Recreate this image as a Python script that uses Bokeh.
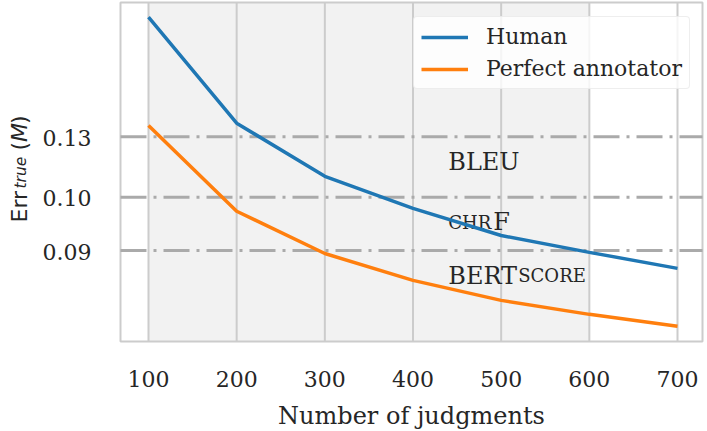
import math
from bokeh.plotting import figure
from bokeh.models import Range1d, BoxAnnotation
from bokeh.core.properties import value
from bokeh.embed import file_html
from bokeh.resources import INLINE

# ---------------- data ----------------
judgments = [100, 200, 300, 400, 500, 600, 700]
xtick_labels = ["100", "200", "300", "400", "500", "600", "700"]
err_human = [0.1676, 0.1305, 0.1119, 0.1007, 0.0912, 0.0853, 0.0797]
err_perfect = [0.1297, 0.0997, 0.0849, 0.0755, 0.0685, 0.0636, 0.0594]
series_names = ["Human", "Perfect annotator"]
metric_names = ["BLEU", "chrF", "BERTscore"]
metric_errs = [0.1258, 0.1046, 0.08595]
ytick_labels = ["0.13", "0.10", "0.09"]
shade_range = [100, 600]
x_label = "Number of judgments"

# ---------------- geometry (canvas px) ----------------
W, H = 707, 431
BOX_L, BOX_R, BOX_T, BOX_B = 120, 702, 2, 341   # drawn axes box
XPX = 600 / 529                    # data units per px (x)
YPX = 0.00035                      # data units per px (y)
XS = 100 - 148 * XPX               # x value at px 0
YT = 0.1045 + 197 * YPX            # y value at px 0


def X(px):
    return XS + px * XPX


def Y(py):
    return YT - py * YPX


SERIF = "DejaVu Serif"
SANS = "DejaVu Sans"
TXT = "#262626"

p = figure(width=W, height=H, output_backend="svg", toolbar_location=None,
           x_range=Range1d(X(0), X(W)), y_range=Range1d(Y(H), Y(0)),
           min_border_left=0, min_border_right=0, min_border_top=0, min_border_bottom=0)

p.background_fill_color = "white"
p.border_fill_color = "white"
p.outline_line_color = None
p.xaxis.visible = False
p.yaxis.visible = False
p.xgrid.visible = False
p.ygrid.visible = False

# shaded span
p.add_layout(BoxAnnotation(left=shade_range[0], right=shade_range[1], top=Y(BOX_T), bottom=Y(BOX_B),
                           fill_color="#f2f2f2", fill_alpha=1.0, line_color=None, level="image"))

# vertical grid lines at the x ticks
p.segment(x0=judgments, x1=judgments, y0=[Y(BOX_T)] * len(judgments), y1=[Y(BOX_B)] * len(judgments),
          line_color="#cccccc", line_width=2)

# axes box
p.quad(left=[X(BOX_L)], right=[X(BOX_R)], top=[Y(BOX_T)], bottom=[Y(BOX_B)],
       fill_color=None, line_color="#cccccc", line_width=2)

# metric reference lines
p.segment(x0=[X(BOX_L)] * len(metric_errs), x1=[X(BOX_R)] * len(metric_errs),
          y0=metric_errs, y1=metric_errs, line_color="#aaaaaa", line_width=3,
          line_dash="26 7 3 7")

# metric labels (with small caps parts)
label_x = 440
pieces = {
    "BLEU": [("BLEU", "24px", 0)],
    "chrF": [("CHR", "18px", 0), ("F", "24px", 45)],
    "BERTscore": [("BERT", "24px", 0), ("SCORE", "18px", 70)],
}
for name, e in zip(metric_names, metric_errs):
    for txt, size, dx in pieces[name]:
        p.text(x=[label_x], y=[e], text=[txt], x_offset=dx, y_offset=25,
               text_font=value(SERIF), text_font_size=size, text_color=TXT,
               text_align="left", text_baseline="alphabetic")

# data lines
p.line(judgments, err_human, line_color="#1f77b4", line_width=3.5, legend_label=series_names[0])
p.line(judgments, err_perfect, line_color="#ff7f0e", line_width=3.5, legend_label=series_names[1])

# y tick labels
p.text(x=[X(91)] * len(metric_errs), y=metric_errs, text=ytick_labels, y_offset=1,
       text_font=value(SERIF), text_font_size="22px", text_color=TXT,
       text_align="right", text_baseline="middle")

# x tick labels
p.text(x=judgments, y=[Y(377)] * len(judgments), text=xtick_labels, y_offset=1,
       text_font=value(SERIF), text_font_size="22px", text_color=TXT,
       text_align="center", text_baseline="middle")

# x-axis label
p.text(x=[X((BOX_L + BOX_R) / 2)], y=[Y(415)], text=[x_label],
       text_font=value(SERIF), text_font_size="24px", text_color=TXT,
       text_align="center", text_baseline="alphabetic")

# y-axis label: Err_true(M), rotated to read upward
ylab = [
    ("Err", 18.5, 222, "22px", "normal"),
    ("true", 20.5, 188, "15.5px", "italic"),
    ("(", 18.5, 150, "22px", "normal"),
    ("M", 18.5, 141.4, "22px", "italic"),
    (")", 18.5, 123.5, "22px", "normal"),
]
for t, sx, sy, fs, st in ylab:
    p.text(x=[X(sx)], y=[Y(sy)], text=[t], angle=math.pi / 2,
           text_font=value(SANS), text_font_size=fs, text_font_style=st,
           text_color=TXT, text_align="left", text_baseline="alphabetic")

# legend
lg = p.legend[0]
lg.location = (413, 342)
lg.label_text_font = SERIF
lg.label_text_font_size = "22px"
lg.label_text_color = TXT
lg.glyph_width = 47
lg.glyph_height = 24
lg.label_height = 24
lg.label_standoff = 18
lg.spacing = 7
lg.padding = 7
lg.margin = 0
lg.border_line_color = "#dddddd"
lg.border_line_width = 1.5
lg.border_radius = 4
lg.background_fill_color = "white"
lg.background_fill_alpha = 0.8

open("out.html", "w").write(file_html(p, INLINE))
